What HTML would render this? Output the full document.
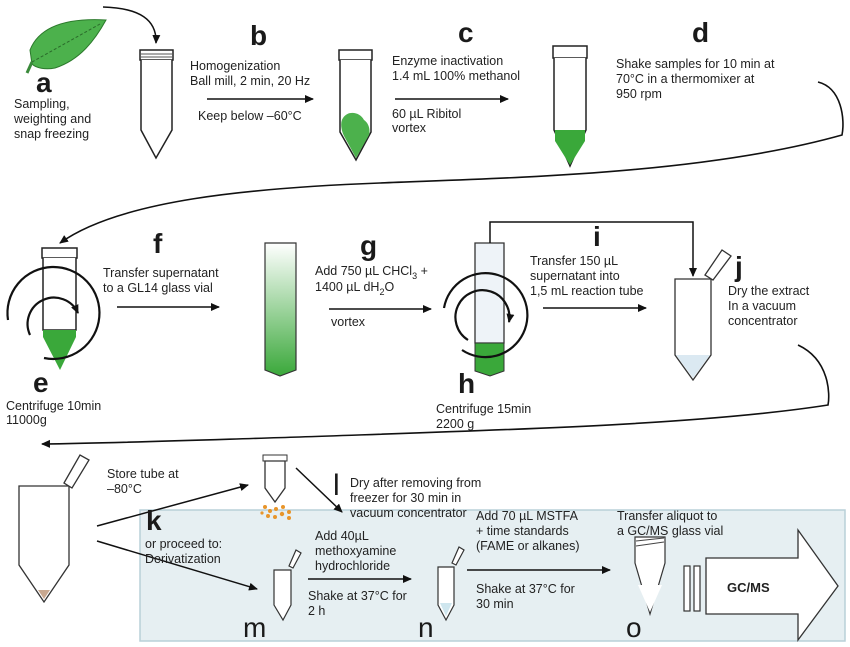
<!DOCTYPE html>
<html><head><meta charset="utf-8"><style>
html,body{margin:0;padding:0;background:#fff}
svg{display:block}
text{font-family:"Liberation Sans",Arial,sans-serif;font-size:12.5px;fill:#222}
.L{font-size:28px;font-weight:bold;fill:#1a1a1a}
.s{font-size:12px}
</style></head><body>
<svg width="850" height="647" viewBox="0 0 850 647" xmlns="http://www.w3.org/2000/svg">
<defs>
<marker id="ar" markerWidth="10" markerHeight="10" refX="8" refY="4" orient="auto" markerUnits="userSpaceOnUse">
<path d="M0,0 L9,4 L0,8 z" fill="#111"/></marker>
<linearGradient id="gv" x1="0" y1="0" x2="0" y2="1"><stop offset="0" stop-color="#fff"/><stop offset="1" stop-color="#3aa83a"/></linearGradient>
</defs>
<!-- derivatization box -->
<rect x="140" y="510" width="705" height="131" fill="#e6eff2" stroke="#b9d0d8" stroke-width="1.5"/>

<!-- leaf -->
<path d="M30,50 C40,25 70,18 106,20 C95,40 80,60 55,68 C45,70 36,68 32,64 Z" fill="#4cb14c" stroke="#2c7a2c" stroke-width="1"/>
<path d="M32,62 L100,24" stroke="#2a6a2a" stroke-width="1" stroke-dasharray="3,2"/>
<path d="M32,62 L27,73" stroke="#3a8a3a" stroke-width="3"/>
<path d="M103,7 C140,8 157,20 156,43" fill="none" stroke="#111" stroke-width="1.5" marker-end="url(#ar)"/>
<text class="L" x="36" y="92">a</text>
<text x="14" y="108">Sampling,</text><text x="14" y="123">weighting and</text><text x="14" y="138">snap freezing</text>

<!-- tube 1 -->
<g stroke="#222" stroke-width="1.5" fill="#fff">
<rect x="140" y="50" width="33" height="10"/>
<path d="M141,60 L141,130 L156,158 L172,130 L172,60"/>
</g>
<path d="M141,54 H172 M141,57 H172" stroke="#555"/>
<text class="L" x="250" y="45">b</text>
<text x="190" y="70">Homogenization</text><text x="190" y="85">Ball mill, 2 min, 20 Hz</text>
<line x1="207" y1="99" x2="313" y2="99" stroke="#111" stroke-width="1.5" marker-end="url(#ar)"/>
<text x="198" y="120">Keep below –60°C</text>

<!-- tube b -->
<g stroke="#222" stroke-width="1.5" fill="#fff">
<rect x="339" y="50" width="33" height="10"/>
<path d="M340,60 L340,132 L356,160 L371,132 L371,60"/>
</g>
<path d="M343,118 C348,110 360,112 364,120 C370,124 370,132 369,135 L356,158 L344,136 C341,130 340,122 343,118Z" fill="#4cb14c"/>
<text class="L" x="458" y="42">c</text>
<text x="392" y="65">Enzyme inactivation</text><text x="392" y="80">1.4 mL 100% methanol</text>
<line x1="395" y1="99" x2="508" y2="99" stroke="#111" stroke-width="1.5" marker-end="url(#ar)"/>
<text x="392" y="118">60 µL Ribitol</text><text x="392" y="132">vortex</text>

<!-- tube c -->
<g stroke="#222" stroke-width="1.5" fill="#fff">
<rect x="553" y="46" width="34" height="12"/>
<path d="M554,58 L554,130 L570,166 L586,130 L586,58"/>
</g>
<path d="M555,130 L585,130 L585,141 L570,165 L555,141Z" fill="#3aa83a"/>
<text class="L" x="692" y="42">d</text>
<text x="616" y="68">Shake samples for 10 min at</text><text x="616" y="83">70°C in a thermomixer at</text><text x="616" y="98">950 rpm</text>

<!-- big curve 1 -->
<path d="M818,82 C842,88 845,120 842,135 C700,175 500,178 380,183 C250,188 120,200 60,243" fill="none" stroke="#111" stroke-width="1.6" marker-end="url(#ar)"/>

<!-- tube e -->
<g stroke="#222" stroke-width="1.5" fill="#fff">
<rect x="42" y="248" width="35" height="10"/>
<path d="M43,258 L43,330 L76,330 L76,258"/>
</g>
<path d="M43,330 L76,330 L76,337 L60,370 L43,337Z" fill="#3aa83a"/>
<path d="M8,320 A46,46 0 1 1 44,358" fill="none" stroke="#111" stroke-width="2.2"/>
<path d="M30,335 A26,26 0 1 1 78,313" fill="none" stroke="#111" stroke-width="2.2" marker-end="url(#ar)"/>
<text class="L" x="33" y="392">e</text>
<text x="6" y="410">Centrifuge 10min</text><text x="6" y="424">11000g</text>

<text class="L" x="153" y="253">f</text>
<text x="103" y="277">Transfer supernatant</text><text x="103" y="292">to a GL14 glass vial</text>
<line x1="117" y1="307" x2="219" y2="307" stroke="#111" stroke-width="1.5" marker-end="url(#ar)"/>
<!-- vial f -->
<path d="M265,243 L296,243 L296,370 L280,376 L265,370Z" fill="url(#gv)" stroke="#333" stroke-width="1.2"/>

<text class="L" x="360" y="255">g</text>
<text x="315" y="275">Add 750 µL CHCl<tspan font-size="9" dy="4">3</tspan><tspan dy="-4"> +</tspan></text>
<text x="315" y="291">1400 µL dH<tspan font-size="9" dy="4">2</tspan><tspan dy="-4">O</tspan></text>
<line x1="329" y1="309" x2="431" y2="309" stroke="#111" stroke-width="1.5" marker-end="url(#ar)"/>
<text x="331" y="326">vortex</text>

<!-- tube h -->
<path d="M475,243 L504,243 L504,343 L475,343Z" fill="#eef3f8" stroke="#333" stroke-width="1.3"/>
<path d="M475,343 L504,343 L504,371 L490,376 L475,371Z" fill="#3aa83a" stroke="#333" stroke-width="1"/>
<path d="M444,308 A42,42 0 1 1 462,350" fill="none" stroke="#111" stroke-width="2.2"/>
<path d="M468,340 A27,27 0 1 1 509,322" fill="none" stroke="#111" stroke-width="2.2" marker-end="url(#ar)"/>
<path d="M490,243 L490,222 L693,222 L693,276" fill="none" stroke="#111" stroke-width="1.5" marker-end="url(#ar)"/>
<text class="L" x="593" y="246">i</text>
<text x="530" y="265">Transfer 150 µL</text><text x="530" y="280">supernatant into</text><text x="530" y="295">1,5 mL reaction tube</text>
<line x1="543" y1="308" x2="646" y2="308" stroke="#111" stroke-width="1.5" marker-end="url(#ar)"/>
<text class="L" x="458" y="393">h</text>
<text x="436" y="413">Centrifuge 15min</text><text x="436" y="428">2200 g</text>

<!-- tube j -->
<path d="M675,279 L711,279 L711,355 L693,380 L675,355Z" fill="#fff" stroke="#333" stroke-width="1.3"/>
<path d="M676,355 L710,355 L693,378Z" fill="#dbe9f2"/>
<path d="M705,275 L722,250 L731,256 L713,280Z" fill="#fff" stroke="#333" stroke-width="1.3"/>
<text class="L" x="735" y="276">j</text>
<text x="728" y="295">Dry the extract</text><text x="728" y="310">In a vacuum</text><text x="728" y="325">concentrator</text>

<!-- big curve 2 -->
<path d="M798,345 C830,360 830,395 828,405 C700,425 500,430 300,437 C200,440 120,443 42,444" fill="none" stroke="#111" stroke-width="1.6" marker-end="url(#ar)"/>

<!-- tube k -->
<path d="M19,486 L69,486 L69,565 L44,602 L19,565Z" fill="#fff" stroke="#333" stroke-width="1.3"/>
<path d="M38,590 L50,590 L44,599Z" fill="#c8a890"/>
<path d="M64,483 L80,455 L89,460 L72,488Z" fill="#fff" stroke="#333" stroke-width="1.3"/>
<text x="107" y="478">Store tube at</text><text x="107" y="493">–80°C</text>
<line x1="97" y1="526" x2="248" y2="485" stroke="#111" stroke-width="1.5" marker-end="url(#ar)"/>
<line x1="97" y1="541" x2="257" y2="589" stroke="#111" stroke-width="1.5" marker-end="url(#ar)"/>
<text class="L" x="146" y="530">k</text>
<text x="145" y="548">or proceed to:</text><text x="145" y="563">Derivatization</text>

<!-- tube l -->
<rect x="263" y="455" width="24" height="6" fill="#fff" stroke="#333"/>
<path d="M265,461 L285,461 L285,488 L275,502 L265,488Z" fill="#fff" stroke="#333" stroke-width="1.3"/>
<g fill="#e8952a">
<circle cx="265" cy="507" r="2"/><circle cx="270" cy="511" r="2"/><circle cx="276" cy="509" r="2"/><circle cx="283" cy="507" r="2"/><circle cx="268" cy="516" r="2"/><circle cx="275" cy="517" r="2"/><circle cx="282" cy="514" r="2.2"/><circle cx="289" cy="512" r="2"/><circle cx="289" cy="518" r="2"/><circle cx="262" cy="513" r="1.6"/>
</g>
<line x1="296" y1="468" x2="342" y2="512" stroke="#111" stroke-width="1.5" marker-end="url(#ar)"/>
<text class="L" x="333" y="495" style="font-weight:normal;font-size:30px">l</text>
<text x="350" y="487">Dry after removing from</text><text x="350" y="502">freezer for 30 min in</text><text x="350" y="517">vacuum concentrator</text>

<!-- m -->
<path d="M274,570 L291,570 L291,605 L283,620 L274,605Z" fill="#fff" stroke="#333" stroke-width="1.2"/>
<path d="M289,566 L296,550 L301,553 L293,568Z" fill="#fff" stroke="#333" stroke-width="1.2"/>
<text class="L" x="243" y="637" style="font-weight:normal">m</text>
<text x="315" y="540">Add 40µL</text><text x="315" y="555">methoxyamine</text><text x="315" y="570">hydrochloride</text>
<line x1="308" y1="579" x2="411" y2="579" stroke="#111" stroke-width="1.5" marker-end="url(#ar)"/>
<text x="308" y="600">Shake at 37°C for</text><text x="308" y="615">2 h</text>
<!-- n -->
<path d="M438,567 L454,567 L454,605 L446,620 L438,605Z" fill="#fff" stroke="#333" stroke-width="1.2"/>
<path d="M440,603 L452,603 L446,616Z" fill="#cfe6ee"/>
<path d="M452,563 L459,547 L464,550 L456,565Z" fill="#fff" stroke="#333" stroke-width="1.2"/>
<text class="L" x="418" y="637" style="font-weight:normal">n</text>
<text x="476" y="520">Add 70 µL MSTFA</text><text x="476" y="535">+ time standards</text><text x="476" y="550">(FAME or alkanes)</text>
<line x1="467" y1="570" x2="610" y2="570" stroke="#111" stroke-width="1.5" marker-end="url(#ar)"/>
<text x="476" y="593">Shake at 37°C for</text><text x="476" y="608">30 min</text>
<!-- o -->
<path d="M635,537 L665,537 L665,563 L650,614 L635,563Z" fill="#fff" stroke="#333" stroke-width="1.2"/>
<path d="M636,541 L664,538 M636,546 L664,542" stroke="#444"/>
<path d="M638,585 L662,585 L650,612Z" fill="#fff"/>
<text class="L" x="626" y="637" style="font-weight:normal">o</text>
<text x="617" y="520">Transfer aliquot to</text><text x="617" y="535">a GC/MS glass vial</text>
<rect x="684" y="566" width="6" height="45" fill="#fff" stroke="#333" stroke-width="1.2"/>
<rect x="694" y="566" width="6" height="45" fill="#fff" stroke="#333" stroke-width="1.2"/>
<path d="M706,558 L798,558 L798,530 L838,586 L798,640 L798,614 L706,614Z" fill="#fff" stroke="#333" stroke-width="1.3"/>
<text x="727" y="592" style="font-weight:bold;font-size:13px">GC/MS</text>
</svg>
</body></html>
